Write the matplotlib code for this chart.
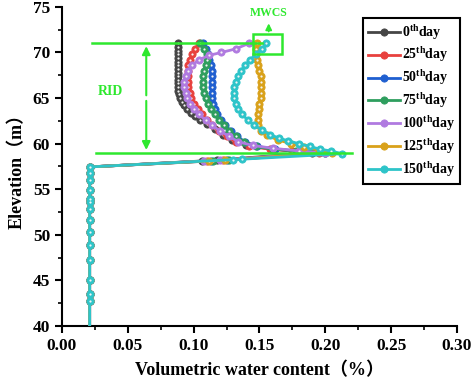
import matplotlib
matplotlib.use("Agg")
import matplotlib.pyplot as plt
from matplotlib.patches import Rectangle
from matplotlib.ticker import MultipleLocator

plt.rcParams['font.family'] = ['Liberation Serif', 'Noto Sans CJK SC', 'DejaVu Sans']
plt.rcParams['font.weight'] = 'bold'
plt.rcParams['mathtext.fontset'] = 'custom'
plt.rcParams['mathtext.rm'] = 'Liberation Serif:bold'
plt.rcParams['mathtext.bf'] = 'Liberation Serif:bold'
plt.rcParams['mathtext.it'] = 'Liberation Serif:bold'

labels = [r"0$^{\mathbf{th}}$day", r"25$^{\mathbf{th}}$day", r"50$^{\mathbf{th}}$day", r"75$^{\mathbf{th}}$day",
          r"100$^{\mathbf{th}}$day", r"125$^{\mathbf{th}}$day", r"150$^{\mathbf{th}}$day"]
colors = ["#454545", "#e8413e", "#1f5fd0", "#2e9e5e", "#b07ae0", "#d9a11a", "#2ec4c9"]

# lower part (shared by all series)
low_elev = [57.45, 56.8, 56.0, 54.9, 53.9, 53.6, 52.8, 51.6, 50.35, 48.9, 47.2, 45.1, 43.5, 42.7, 40.0]
low_x = [0.021] * len(low_elev)

x0 = [0.088, 0.088, 0.088, 0.088, 0.088, 0.088, 0.088, 0.088, 0.088, 0.088, 0.088, 0.088, 0.088, 0.088,
      0.089, 0.090, 0.091, 0.093, 0.095, 0.098, 0.101, 0.105, 0.110, 0.116, 0.122, 0.129, 0.140, 0.160, 0.190,
      0.118, 0.106]
e0 = [71.0, 70.6, 70.2, 69.8, 69.4, 69.0, 68.6, 68.2, 67.8, 67.4, 67.0, 66.6, 66.2, 65.8,
      65.4, 65.0, 64.6, 64.2, 63.8, 63.4, 63.0, 62.6, 62.2, 61.6, 61.0, 60.4, 59.8, 59.4, 59.0,
      58.2, 58.1]

x25 = [0.104, 0.101, 0.099, 0.097, 0.096, 0.0955, 0.0955, 0.0955, 0.096, 0.097, 0.098, 0.100, 0.103, 0.106,
       0.110, 0.114, 0.119, 0.125, 0.132, 0.142, 0.158, 0.175, 0.195, 0.122, 0.110]
e25 = [71.0, 70.4, 69.8, 69.2, 68.6, 68.0, 67.4, 66.8, 66.2, 65.6, 65.0, 64.4, 63.8, 63.2,
       62.6, 62.0, 61.4, 60.8, 60.2, 59.7, 59.4, 59.2, 59.0, 58.2, 58.1]

x50 = [0.107, 0.109, 0.111, 0.112, 0.113, 0.114, 0.114, 0.114, 0.114, 0.114, 0.114, 0.115, 0.116, 0.118,
       0.121, 0.124, 0.128, 0.133, 0.139, 0.148, 0.162, 0.180, 0.200, 0.125, 0.113]
e50 = [71.0, 70.4, 69.8, 69.2, 68.6, 68.0, 67.4, 66.8, 66.2, 65.6, 65.0, 64.4, 63.8, 63.2,
       62.6, 62.0, 61.4, 60.8, 60.2, 59.7, 59.4, 59.2, 59.0, 58.2, 58.1]

x75 = [0.105, 0.108, 0.110, 0.110, 0.109, 0.108, 0.107, 0.107, 0.107, 0.108, 0.109, 0.111, 0.113, 0.116,
       0.119, 0.123, 0.127, 0.132, 0.138, 0.147, 0.160, 0.178, 0.200, 0.127, 0.115]
e75 = [71.0, 70.4, 69.8, 69.2, 68.6, 68.0, 67.4, 66.8, 66.2, 65.6, 65.0, 64.4, 63.8, 63.2,
       62.6, 62.0, 61.4, 60.8, 60.2, 59.7, 59.4, 59.2, 59.0, 58.25, 58.15]

x100 = [0.142, 0.132, 0.121, 0.112, 0.104, 0.099, 0.096, 0.094, 0.093, 0.093, 0.094, 0.095, 0.097, 0.100,
        0.104, 0.109, 0.114, 0.120, 0.127, 0.134, 0.145, 0.160, 0.180, 0.200, 0.120, 0.108]
e100 = [71.0, 70.4, 70.0, 69.7, 69.2, 68.6, 68.0, 67.4, 66.8, 66.2, 65.6, 65.0, 64.4, 63.8,
        63.2, 62.6, 62.0, 61.4, 60.8, 60.2, 59.8, 59.5, 59.2, 59.0, 58.2, 58.1]

x125 = [0.148, 0.147, 0.147, 0.148, 0.149, 0.150, 0.151, 0.151, 0.151, 0.151, 0.151, 0.150, 0.150, 0.149,
        0.149, 0.149, 0.151, 0.156, 0.164, 0.174, 0.184, 0.195, 0.205, 0.124, 0.112]
e125 = [71.0, 70.4, 69.8, 69.2, 68.6, 68.0, 67.4, 66.8, 66.2, 65.6, 65.0, 64.4, 63.8, 63.2,
        62.6, 62.0, 61.4, 60.9, 60.4, 60.0, 59.6, 59.3, 59.0, 58.2, 58.1]

x150 = [0.155, 0.152, 0.147, 0.143, 0.139, 0.136, 0.134, 0.132, 0.131, 0.131, 0.131, 0.132, 0.134, 0.137,
        0.141, 0.146, 0.152, 0.158, 0.165, 0.172, 0.180, 0.188, 0.196, 0.204, 0.213, 0.137, 0.130]
e150 = [71.0, 70.4, 69.8, 69.2, 68.6, 68.0, 67.4, 66.8, 66.2, 65.6, 65.0, 64.4, 63.8, 63.2,
        62.6, 62.0, 61.5, 61.0, 60.6, 60.3, 60.0, 59.7, 59.4, 59.2, 58.9, 58.3, 58.25]

series_x = [x0, x25, x50, x75, x100, x125, x150]
series_e = [e0, e25, e50, e75, e100, e125, e150]

fig = plt.figure(figsize=(4.74, 3.84), dpi=100)
ax = fig.add_axes([0.1308, 0.151, 0.8333, 0.831])

for xs, es, c, lab in zip(series_x, series_e, colors, labels):
    X = xs + low_x
    E = es + low_elev
    n = len(X)
    ax.plot(X, E, color=c, lw=2, marker='o', ms=5.2, mfc=c, mec=c, mew=0.6,
            markevery=list(range(n - 1)), label=lab, zorder=3)
    ax.plot(X[:-1], E[:-1], ls='none', marker='o', ms=1.6, mfc='#f4f4f4', mec='none', zorder=3)

g = "#2ee82e"
ax.plot([0.023, 0.152], [71, 71], color=g, lw=1.8, zorder=4)
ax.plot([0.026, 0.220], [59, 59], color=g, lw=1.8, zorder=4)
ax.annotate('', xy=(0.064, 71), xytext=(0.064, 65), zorder=4,
            arrowprops=dict(arrowstyle='-|>', color=g, lw=1.5, mutation_scale=12))
ax.annotate('', xy=(0.064, 59), xytext=(0.064, 65), zorder=4,
            arrowprops=dict(arrowstyle='-|>', color=g, lw=1.5, mutation_scale=12))
ax.text(0.037, 65.7, 'RID', color=g, fontsize=10, fontweight='bold', ha='center', va='center')
ax.add_patch(Rectangle((0.145, 69.8), 0.022, 2.2, fill=False, ec=g, lw=1.8, zorder=5))
ax.annotate('', xy=(0.157, 73.5), xytext=(0.157, 72.0), zorder=5,
            annotation_clip=False,
            arrowprops=dict(arrowstyle='-|>', color=g, lw=1.3, mutation_scale=9))
ax.text(0.157, 74.3, 'MWCS', color=g, fontsize=8.5, fontweight='bold', ha='center', va='center')

ax.set_xlim(0, 0.30)
ax.set_ylim(40, 75)
ax.xaxis.set_major_locator(MultipleLocator(0.05))
ax.xaxis.set_minor_locator(MultipleLocator(0.025))
ax.yaxis.set_major_locator(MultipleLocator(5))
ax.yaxis.set_minor_locator(MultipleLocator(2.5))
ax.set_xticks([0, 0.05, 0.10, 0.15, 0.20, 0.25, 0.30])
ax.set_xticklabels(['0.00', '0.05', '0.10', '0.15', '0.20', '0.25', '0.30'])
for s in ['top', 'right']:
    ax.spines[s].set_visible(False)
for s in ['left', 'bottom']:
    ax.spines[s].set_linewidth(1.5)
ax.tick_params(which='major', direction='out', length=5, width=1.5, labelsize=12.5)
ax.tick_params(which='minor', direction='out', length=3, width=1.2)
for t in ax.get_xticklabels() + ax.get_yticklabels():
    t.set_fontweight('bold')

ax.set_xlabel('Volumetric water content（%）', fontsize=13, fontweight='bold', labelpad=6)
ax.set_ylabel('Elevation（m）', fontsize=13, fontweight='bold', labelpad=5)

handles, labs = ax.get_legend_handles_labels()
leg = ax.legend(handles[:7], labs[:7], loc='upper left', bbox_to_anchor=(0.762, 0.966), frameon=True,
                fancybox=False, edgecolor='black', framealpha=1, fontsize=10, handlelength=2.3,
                borderpad=0.35, labelspacing=0.29, handletextpad=0.15, borderaxespad=0)
leg.get_frame().set_linewidth(1.5)
for t in leg.get_texts():
    t.set_fontweight('bold')
leg.set_zorder(6)

fig.savefig('out.png', dpi=100)
